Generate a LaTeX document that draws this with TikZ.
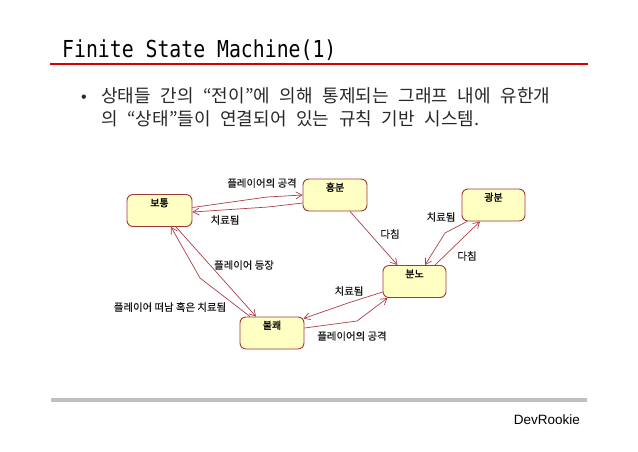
\documentclass[tikz,border=0pt]{standalone}
\usepackage{fontspec}
\setmainfont{Liberation Sans}
\newfontfamily\krfont[FakeBold=0.5]{Noto Sans CJK KR}
\newfontfamily\krstate[FakeBold=1.4]{Noto Sans CJK KR}
\newfontfamily\krbody[WordSpace=2.4]{Noto Sans CJK KR}
\newfontfamily\titlemono{DejaVu Sans Mono}
\usetikzlibrary{arrows.meta,calc}
\definecolor{StateFill}{RGB}{255,255,196}
\definecolor{StateLine}{RGB}{158,58,58}
\definecolor{EdgeRed}{RGB}{172,62,72}
\definecolor{TitleRed}{RGB}{214,0,0}
\definecolor{RuleGray}{RGB}{192,192,192}
\definecolor{BodyGray}{RGB}{40,40,40}
\tikzset{
  state/.style={rectangle,rounded corners=6pt,draw=StateLine,fill=StateFill,
    line width=0.9pt,minimum width=64pt,text height=9pt,text depth=17pt,
    inner ysep=3pt,font=\krstate\fontsize{10}{10}\selectfont},
  trans/.style={draw=EdgeRed,line width=0.7pt,-{Straight Barb[length=6pt,width=7pt]}},
  tlabel/.style={font=\krfont\fontsize{10.4}{11}\selectfont,text=black!90}
}

\begin{document}
\begin{tikzpicture}[x=1pt,y=-1pt]
  \useasboundingbox (0,0) rectangle (638,451);
  % title and rules
  \node[anchor=base west,inner sep=0pt,font=\titlemono\fontsize{19.8}{20}\selectfont] (title)
    at (62,57) {\scalebox{1}[1.18]{Finite State Machine(1)}};
  \draw[TitleRed,line width=2.6pt] (50,64) -- (588,64);
  \draw[RuleGray,line width=4pt] (51,400) -- (587,400);
  \node[anchor=base east,inner sep=0pt,font=\fontsize{13.5}{14}\selectfont] (footer)
    at (580,424) {DevRookie};
  % bullet text
  \node[anchor=base,inner sep=0pt,font=\fontsize{16}{16}\selectfont,text=BodyGray] (dot) at (84,102) {•};
  \node[anchor=base west,inner sep=0pt,font=\krbody\fontsize{18}{22}\selectfont,text=BodyGray] (body1)
    at (101,102) {상태들 간의 “전이”에 의해 통제되는 그래프 내에 유한개};
  \node[anchor=base west,inner sep=0pt,font=\krbody\fontsize{18}{22}\selectfont,text=BodyGray] (body2)
    at (101,125) {의 “상태”들이 연결되어 있는 규칙 기반 시스템.};

  % states
  \node[state,minimum width=65pt] (botong) at (159.5,210.5) {보통};
  \node[state] (heung) at (335,195) {흥분};
  \node[state,minimum width=63pt] (gwang) at (493.5,205) {광분};
  \node[state,minimum width=63pt] (bunno) at (414.5,281.5) {분노};
  \node[state] (bulkwae) at (272,333) {불쾌};

  % transitions
  \draw[trans] ($(botong.east)+(0,-3)$) -- (267,197) -- (heung.west);
  \draw[trans] ($(heung.west)+(0,8)$) -- (268,207) -- ($(botong.east)+(0,1.5)$);
  \draw[trans] ($(heung.south)+(15,0)$) -- ($(bunno.north)+(-17,0)$);
  \draw[trans] ($(gwang.south)+(-26.5,0)$) -- (445,233) -- ($(bunno.north)+(10.5,0)$);
  \draw[trans] ($(bunno.north)+(20.5,0)$) -- ($(gwang.south)+(-13.5,0)$);
  \draw[trans] ($(bunno.west)+(0,10.5)$) -- (348,303) -- ($(bulkwae.north east)+(-1,2)$);
  \draw[trans] ($(bulkwae.east)+(0,-5)$) -- (357,321) -- ($(bunno.south west)+(5,0)$);
  \draw[trans] ($(botong.south)+(16.5,0)$) -- ($(bulkwae.north)+(-16,0)$);
  \draw[trans] ($(bulkwae.north)+(-22,0)$) -- (200,278) -- ($(botong.south)+(11.5,0)$);

  % transition labels
  \node[tlabel] (l-attack1) at (262,183) {플레이어의 공격};
  \node[tlabel] (l-heal1) at (225,220) {치료됨};
  \node[tlabel] (l-hurt1) at (390,234) {다침};
  \node[tlabel] (l-heal2) at (441,217) {치료됨};
  \node[tlabel] (l-hurt2) at (467,256) {다침};
  \node[tlabel] (l-enter) at (244,265) {플레이어 등장};
  \node[tlabel] (l-heal3) at (349,291) {치료됨};
  \node[tlabel] (l-leave) at (170,307) {플레이어 떠남 혹은 치료됨};
  \node[tlabel] (l-attack2) at (352,336) {플레이어의 공격};
\end{tikzpicture}
\end{document}
